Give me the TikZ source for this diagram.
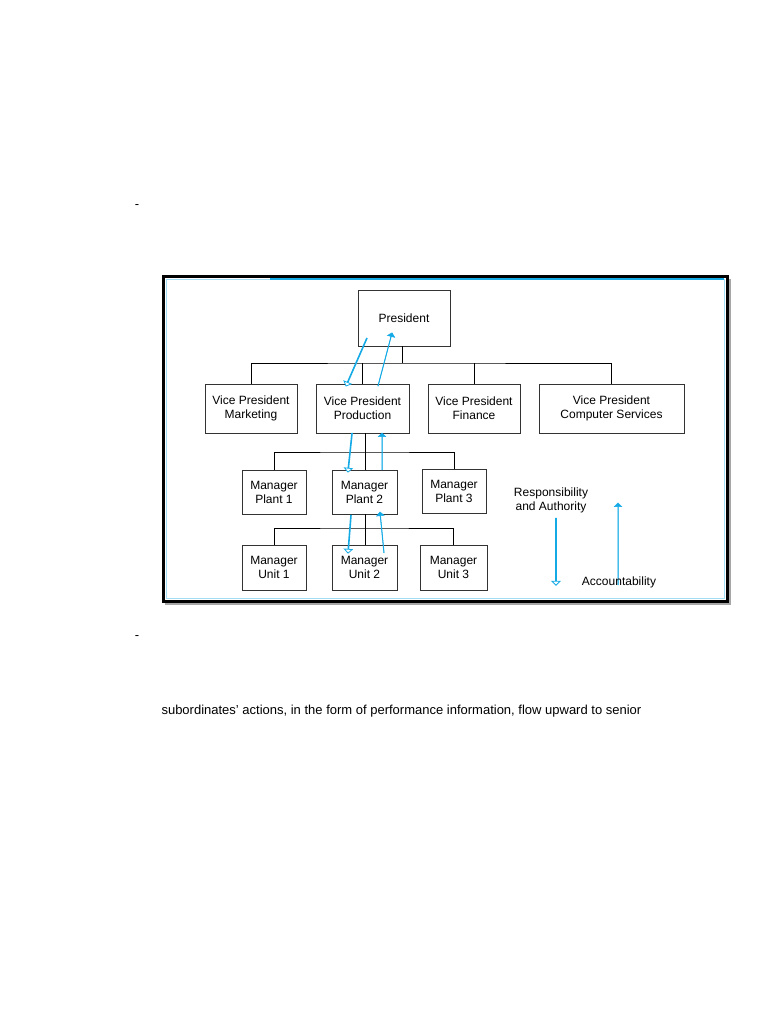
\documentclass[tikz,border=0pt]{standalone}
\usepackage{fontspec}
\setmainfont{Liberation Sans}
\usetikzlibrary{shapes.arrows}
\definecolor{ab}{RGB}{20,170,230}
\begin{document}
\begin{tikzpicture}[x=1pt,y=-1pt,
  box/.style={draw=black!80,line width=0.8pt,fill=white,align=center,inner sep=0pt,font=\fontsize{12}{14}\selectfont},
  ln/.style={line width=1pt},
  harr/.style={single arrow,draw=ab,fill=white,line width=0.8pt,minimum width=5pt,single arrow head extend=3.5pt,inner sep=0pt},
  farr/.style={single arrow,draw=ab,fill=ab,line width=0.5pt,minimum width=5pt,single arrow head extend=3.5pt,inner sep=0pt},
  lbl/.style={font=\fontsize{12}{14}\selectfont,align=center}]
\fill[white] (0,0) rectangle (768,1024);
\useasboundingbox (0,0) rectangle (768,1024);
\node[font=\fontsize{13}{15}\selectfont] (d1) at (137,207) {-};
\node[font=\fontsize{13}{15}\selectfont] (d2) at (137,638) {-};
\node[font=\fontsize{13}{15}\selectfont,anchor=west] (t) at (158,711) {subordinates' actions, in the form of performance information, flow upward to senior};
% frame
\fill[black!35] (165,279) rectangle (731,605);
\draw[line width=3pt,fill=white] (163,276) rectangle (727,601);
\draw[ab!40,line width=1pt] (166,279) rectangle (724,598);
\draw[ab,line width=1.2pt] (270,279) -- (724,279);
% boxes
\node[box,minimum width=92pt,minimum height=56pt] (p) at (404,318) {President};
\node[box,minimum width=92pt,minimum height=49pt] (vm) at (251,408.5) {Vice President\\Marketing};
\node[box,minimum width=93pt,minimum height=49pt] (vp) at (362.5,408.5) {Vice President\\Production};
\node[box,minimum width=92pt,minimum height=49pt] (vf) at (474,408.5) {Vice President\\Finance};
\node[box,minimum width=145pt,minimum height=49pt] (vc) at (611.5,408.5) {Vice President\\Computer Services};
\node[box,minimum width=64pt,minimum height=44pt] (m1) at (274,492) {Manager\\Plant 1};
\node[box,minimum width=65pt,minimum height=44pt] (m2) at (364.5,492) {Manager\\Plant 2};
\node[box,minimum width=64pt,minimum height=44pt] (m3) at (454,491) {Manager\\Plant 3};
\node[box,minimum width=64pt,minimum height=45pt] (u1) at (274,567.5) {Manager\\Unit 1};
\node[box,minimum width=65pt,minimum height=45pt] (u2) at (364.5,567.5) {Manager\\Unit 2};
\node[box,minimum width=67pt,minimum height=45pt] (u3) at (453.5,567.5) {Manager\\Unit 3};
% connectors
\coordinate (b1) at (402,363);
\draw[ln] (p.south -| b1) -- (b1);
\draw[ln] (vm.north) |- (b1) -| (vc.north);
\draw[ln] (vp.north) -- (vp.north |- b1);
\draw[ln] (vf.north) -- (vf.north |- b1);
\coordinate (b2) at (365,452);
\draw[ln] (vp.south -| b2) -- (b2);
\draw[ln] (m1.north) |- (b2) -| (m3.north);
\draw[ln] (b2) -- (m2.north -| b2);
\coordinate (b3) at (365,528);
\draw[ln] (m2.south -| b3) -- (b3);
\draw[ln] (u1.north) |- (b3) -| (u3.north);
\draw[ln] (b3) -- (u2.north -| b3);
% arrows
\node[harr,minimum height=52pt,rotate=246.4] (h1) at (356.5,362) {};
\node[farr,minimum height=55pt,rotate=75.2] (f1) at (385,359.5) {};
\node[harr,minimum height=39pt,rotate=264] (h2) at (350,452.5) {};
\node[farr,minimum height=37pt,rotate=90] (f2) at (382,451.5) {};
\node[harr,minimum height=38pt,rotate=265.5] (h3) at (349.5,534) {};
\node[farr,minimum height=41pt,rotate=95.6] (f3) at (382,532.5) {};
\node[harr,minimum height=67pt,rotate=270] (h4) at (556,551.5) {};
\node[farr,minimum height=82pt,rotate=90] (f4) at (618,544) {};
\node[lbl] (l1) at (551,500) {Responsibility\\and Authority};
\node[lbl] (l2) at (619,582) {Accountability};
\end{tikzpicture}
\end{document}
